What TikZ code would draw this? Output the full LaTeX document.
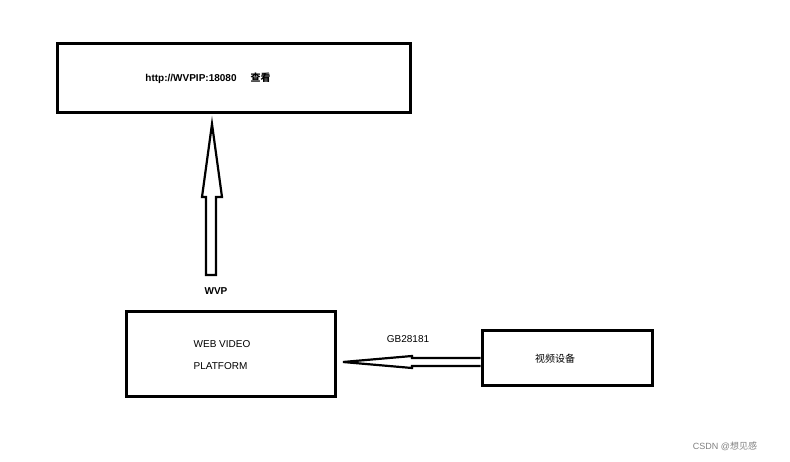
\documentclass[tikz,border=0pt]{standalone}
\usepackage{fontspec}
\setmainfont{Liberation Sans}
\newfontfamily\cjk{Noto Sans CJK SC}
\begin{document}
\begin{tikzpicture}[x=1pt,y=-1pt,
  box/.style={draw,line width=3pt},
  arr/.style={draw,line width=2.2pt,line join=miter},
  lbl/.style={font=\fontsize{10}{12}\selectfont,inner sep=0pt}]
\useasboundingbox (0,0) rectangle (790,462);
\node[box,minimum width=353,minimum height=69,inner sep=0pt] (top) at (233.5,78.5) {};
\node[lbl,font=\bfseries\fontsize{10}{12}\selectfont] (url) at (208,78) {http://WVPIP:18080\hspace{14pt}{\cjk 查看}};
\node[box,minimum width=209,minimum height=84,inner sep=0pt] (wvp) at (230.5,354) {};
\node[lbl,align=left] (wvpt) at (222,355) {WEB VIDEO\\[10pt]PLATFORM};
\node[box,minimum width=170,minimum height=54,inner sep=0pt] (dev) at (567,358) {};
\node[lbl] (devt) at (555,359) {\cjk 视频设备};
\node[lbl,font=\bfseries\fontsize{10}{12}\selectfont] (wvplbl) at (216,291) {WVP};
\node[lbl] (gb) at (408,339) {GB28181};
\node[lbl,text=gray,font=\fontsize{9}{11}\selectfont] (csdn) at (725,446) {CSDN @{\cjk 想见感}};
\coordinate (upbase) at (211,275);
\coordinate (uptip) at (212,124);
\draw[arr] (206,275) -- (206,197) -- (202,197) -- (uptip) -- (222,197) -- (216,197) -- (216,275) -- cycle;
\draw[arr] (dev.west |- 0,358) -- (412,358) -- (412,356) -- (343,362) -- (412,368) -- (412,366) -- (dev.west |- 0,366);
\end{tikzpicture}
\end{document}
